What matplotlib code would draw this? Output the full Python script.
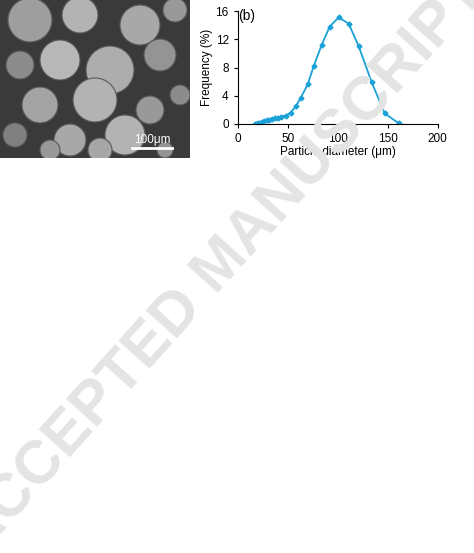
import matplotlib.pyplot as plt
from matplotlib.patches import Circle

# particle size distribution
diameter = [17, 18, 20, 22, 24, 26, 29, 31, 34, 37, 40, 43, 48, 53, 58, 63, 70, 76, 84, 92, 101, 111, 121, 134, 147, 161]
frequency = [0, 0.05, 0.1, 0.2, 0.3, 0.4, 0.5, 0.6, 0.7, 0.8, 0.9, 1.05, 1.2, 1.6, 2.5, 3.7, 5.6, 8.2, 11.2, 13.8, 15.1, 14.2, 11.0, 5.9, 1.5, 0.1]

# rough sketch of the SEM micrograph (a)
spheres_x = [30, 80, 140, 175, 20, 60, 110, 160, 40, 95, 150, 15, 70, 125, 180, 50, 100, 165]
spheres_y = [20, 15, 25, 10, 65, 60, 70, 55, 105, 100, 110, 135, 140, 135, 95, 150, 150, 150]
spheres_r = [22, 18, 20, 12, 14, 20, 24, 16, 18, 22, 14, 12, 16, 20, 10, 10, 12, 8]
spheres_g = [0.62, 0.7, 0.66, 0.6, 0.55, 0.72, 0.68, 0.58, 0.64, 0.7, 0.6, 0.5, 0.66, 0.7, 0.55, 0.6, 0.65, 0.58]

fam = ['Liberation Sans', 'DejaVu Sans']
fig = plt.figure(figsize=(4.74, 5.53), dpi=100)

img = fig.add_axes([0, 1 - 158 / 553, 190 / 474, 158 / 553])
img.set_facecolor('#3a3a3a')
img.set_xlim(0, 190)
img.set_ylim(158, 0)
for x, y, r, g in zip(spheres_x, spheres_y, spheres_r, spheres_g):
    img.add_patch(Circle((x, y), r, color=str(g), ec='0.35', lw=0.8))
img.plot([132, 172], [148, 148], color='white', lw=2)
img.text(152, 146, '100μm', color='white', fontsize=8.5, ha='center', va='bottom', family=fam)
img.set_xticks([])
img.set_yticks([])
for s in img.spines.values():
    s.set_visible(False)

fig.text(0.47, 0.52, 'ACCEPTED MANUSCRIPT', fontsize=44, fontweight='bold', color='#e4e4e4',
         rotation=48, ha='center', va='center', family=fam, zorder=0)

ax = fig.add_axes([237.7 / 474, 1 - 124 / 553, 200 / 474, 113 / 553])
ax.patch.set_alpha(0)
ax.plot(diameter, frequency, color='#1ba1d8', lw=1.3, marker='D', ms=2.5)
ax.set_xlim(0, 200)
ax.set_ylim(0, 16)
ax.set_xticks([0, 50, 100, 150, 200])
ax.set_yticks([0, 4, 8, 12, 16])
ax.tick_params(labelsize=8.5, length=3)
ax.set_xlabel('Particle diameter (μm)', fontsize=8.5, labelpad=1, family=fam)
ax.set_ylabel('Frequency (%)', fontsize=8.5, labelpad=2, family=fam)
for lab in ax.get_xticklabels() + ax.get_yticklabels():
    lab.set_family(fam)
ax.spines['top'].set_visible(False)
ax.spines['right'].set_visible(False)
ax.text(0, 16.3, '(b)', fontsize=10, va='top', family=fam)

fig.savefig('out.png')
